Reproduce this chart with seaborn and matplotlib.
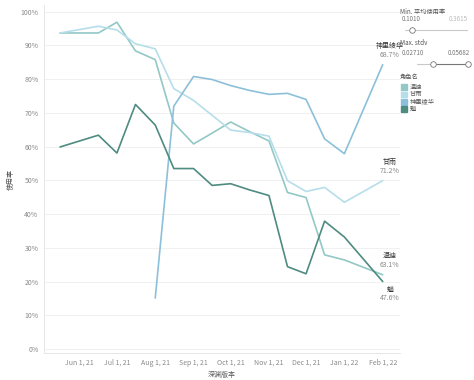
import matplotlib
matplotlib.use("Agg")
import numpy as np
import pandas as pd
import seaborn as sns
import matplotlib.pyplot as plt
import matplotlib.dates as mdates

# data (usage rate in %)
dates = ['2021-05-16', '2021-06-16', '2021-07-01', '2021-07-16', '2021-08-01', '2021-08-16',
         '2021-09-01', '2021-09-16', '2021-10-01', '2021-10-16', '2021-11-01', '2021-11-16',
         '2021-12-01', '2021-12-16', '2022-01-01', '2022-02-01']
venti = [93.7, 93.7, 96.9, 88.4, 85.8, 67.0, 60.8, 64.0, 67.3, 64.5, 61.7, 46.4, 44.9, 27.9, 26.4, 22.0]
ganyu = [93.7, 95.7, 94.6, 90.5, 89.0, 77.2, 73.7, 69.3, 64.9, 64.2, 63.1, 49.9, 46.7, 47.9, 43.5, 49.9]
ayaka = [np.nan, np.nan, np.nan, np.nan, 15.1, 72.0, 80.8, 79.9, 78.1, 76.7, 75.5, 75.8, 74.0, 62.3, 57.9, 84.3]
xiao = [59.9, 63.4, 58.1, 72.5, 66.4, 53.5, 53.5, 48.5, 49.0, 47.2, 45.5, 24.4, 22.3, 37.9, 33.2, 20.0]

names = ['温迪', '甘雨', '神里绫华', '魈']
end_labels = ['63.1%', '71.2%', '68.7%', '47.6%']
colors = ['#92c8c5', '#b6deea', '#8cc0da', '#4e8b80']

tick_dates = ['2021-06-01', '2021-07-01', '2021-08-01', '2021-09-01', '2021-10-01',
              '2021-11-01', '2021-12-01', '2022-01-01', '2022-02-01']
tick_labels = ['Jun 1, 21', 'Jul 1, 21', 'Aug 1, 21', 'Sep 1, 21', 'Oct 1, 21',
               'Nov 1, 21', 'Dec 1, 21', 'Jan 1, 22', 'Feb 1, 22']
y_ticks = [0, 10, 20, 30, 40, 50, 60, 70, 80, 90, 100]

rows = []
for name, vals in zip(names, [venti, ganyu, ayaka, xiao]):
    for d, v in zip(dates, vals):
        if not np.isnan(v):
            rows.append([pd.Timestamp(d), v / 100, name])
df = pd.DataFrame(rows, columns=['date', 'rate', 'role'])

sns.set_theme(style='white')
plt.rcParams['font.family'] = ['Noto Sans CJK SC', 'DejaVu Sans']

W, H = 474, 380
fig = plt.figure(figsize=(W / 100, H / 100), dpi=100)
ax = fig.add_axes([44 / W, 1 - 353 / H, 356 / W, 348 / H])

sns.lineplot(data=df, x='date', y='rate', hue='role', hue_order=names,
             palette=dict(zip(names, colors)), linewidth=1.2, legend=False, ax=ax,
             estimator=None, sort=True)

ax.set_ylim(-0.012, 1.02)
ax.set_xlim(pd.Timestamp('2021-05-03'), pd.Timestamp('2022-02-15'))
ax.set_yticks([t / 100 for t in y_ticks])
ax.set_yticklabels([f'{t}%' for t in y_ticks])
ax.set_xticks([pd.Timestamp(t) for t in tick_dates])
ax.set_xticklabels(tick_labels)
ax.tick_params(axis='both', labelsize=5, colors='#8a8a8a', length=0, pad=4)
ax.yaxis.grid(True, color='#f0f0f0', linewidth=0.7)
ax.xaxis.grid(False)
for s in ['top', 'right']:
    ax.spines[s].set_visible(False)
ax.spines['left'].set_color('#e6e6e6')
ax.spines['bottom'].set_color('#e6e6e6')
ax.spines['left'].set_linewidth(0.7)
ax.spines['bottom'].set_linewidth(0.7)
ax.set_xlabel('深渊版本', fontsize=5, color='#555555', labelpad=3)
ax.set_ylabel('使用率', fontsize=5, color='#555555', labelpad=4)

# end-of-line labels
offsets = [10, 10, 10, -10]
for name, lab, off in zip(names, end_labels, offsets):
    sub = df[df.role == name]
    x_end, y_end = sub['date'].iloc[-1], sub['rate'].iloc[-1]
    if off > 0:
        ax.annotate(lab, (x_end, y_end), xytext=(7, 6), textcoords='offset pixels',
                    ha='center', va='bottom', fontsize=5, color='#888888', annotation_clip=False)
        ax.annotate(name, (x_end, y_end), xytext=(7, 15), textcoords='offset pixels',
                    ha='center', va='bottom', fontsize=5, color='#333333', annotation_clip=False)
    else:
        ax.annotate(name, (x_end, y_end), xytext=(8, -4), textcoords='offset pixels',
                    ha='center', va='top', fontsize=5, color='#333333', annotation_clip=False)
        ax.annotate(lab, (x_end, y_end), xytext=(7, -12), textcoords='offset pixels',
                    ha='center', va='top', fontsize=5, color='#888888', annotation_clip=False)

# side panel: filters and colour legend (pixel coordinates)
pan = fig.add_axes([0, 0, 1, 1], zorder=5)
pan.set_xlim(0, W)
pan.set_ylim(H, 0)
pan.axis('off')
pan.patch.set_alpha(0)
txt = dict(fontsize=4.5, va='center')
pan.text(400, 12, 'Min. 平均使用率', color='#555555', **txt)
pan.text(402, 19, '0.1010', color='#777777', **txt)
pan.text(468, 19, '0.3615', color='#bbbbbb', ha='right', **dict(fontsize=4.5, va='center'))
pan.plot([405, 467], [30, 30], color='#c8c8c8', lw=0.8)
pan.plot([412], [30], marker='o', ms=4, mfc='white', mec='#777777', mew=0.6)
pan.text(400, 43, 'Max. stdv', color='#555555', **txt)
pan.text(402, 53, '0.02710', color='#777777', **txt)
pan.text(470, 53, '0.05682', color='#777777', ha='right', **dict(fontsize=4.5, va='center'))
pan.plot([417, 433], [64, 64], color='#c8c8c8', lw=0.8)
pan.plot([433, 468], [64, 64], color='#777777', lw=0.8)
pan.plot([433, 468], [64, 64], ls='none', marker='o', ms=4, mfc='white', mec='#777777', mew=0.6)
pan.text(400, 77, '角色名', color='#555555', **txt)
for i, (name, c) in enumerate(zip(names, colors)):
    y = 87 + i * 7.4
    pan.add_patch(plt.Rectangle((401, y - 2.8), 5.6, 5.6, color=c))
    pan.text(410, y, name, color='#555555', **txt)

fig.savefig('out.png', dpi=100)
